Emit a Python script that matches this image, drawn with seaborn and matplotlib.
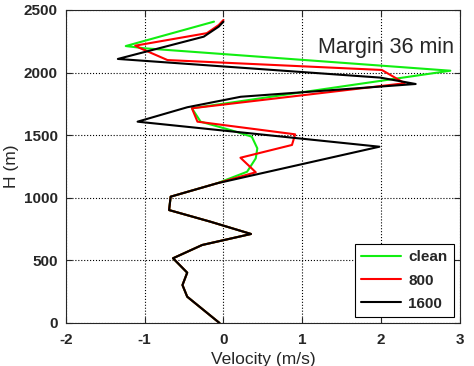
import numpy as np
import pandas as pd
import matplotlib
matplotlib.use('Agg')
import matplotlib.pyplot as plt
import seaborn as sns

# shared lower part of the profile (H in m, velocity in m/s)
low_h = [0, 210, 303, 402, 517, 623, 711, 809, 902, 1009, 1116]
low_v = [-0.05, -0.46, -0.52, -0.46, -0.64, -0.27, 0.35, -0.165, -0.69, -0.67, -0.08]

clean_h = low_h + [1208, 1315, 1395, 1488, 1541, 1608, 1715, 2015, 2194, 2212, 2407]
clean_v = low_v + [0.30, 0.41, 0.43, 0.36, 0.09, -0.29, -0.40, 2.88, -1.0, -1.24, -0.12]

r800_h = low_h + [1204, 1320, 1422, 1507, 1608, 1715, 1915, 2021, 2100, 2193, 2215, 2315, 2380, 2420]
r800_v = low_v + [0.41, 0.216, 0.87, 0.91, -0.33, -0.40, 2.3, 2.01, -0.71, -1.05, -1.12, -0.21, -0.06, 0.0]

r1600_h = low_h + [1408, 1608, 1723, 1807, 1909, 1960, 2109, 2287, 2367, 2407]
r1600_v = low_v + [1.98, -1.09, -0.46, 0.22, 2.44, 1.99, -1.34, -0.25, -0.06, 0.0]

labels = ['clean', '800', '1600']
colors = ['#11ee11', '#ff0000', '#000000']

frames = []
for lab, hh, vv in zip(labels, [clean_h, r800_h, r1600_h], [clean_v, r800_v, r1600_v]):
    frames.append(pd.DataFrame({'H': hh, 'V': vv, 'run': lab}))
df = pd.concat(frames, ignore_index=True)

sns.set_style('ticks')
plt.rcParams['font.family'] = ['Liberation Sans', 'DejaVu Sans']
plt.rcParams['axes.unicode_minus'] = False

fig = plt.figure(figsize=(4.74, 3.66), dpi=100)
ax = fig.add_axes([0.139, 0.1175, 0.831, 0.8552])

sns.lineplot(data=df, x='V', y='H', hue='run', palette=colors, hue_order=labels,
             sort=False, estimator=None, linewidth=1.5, ax=ax)

ax.set_xlim(-2, 3)
ax.set_ylim(0, 2500)
ax.set_xticks([-2, -1, 0, 1, 2, 3])
ax.set_yticks([0, 500, 1000, 1500, 2000, 2500])
ax.grid(True, color='black', linestyle=':', linewidth=0.8)
ax.tick_params(direction='in', top=True, right=True, length=4, labelsize=11)
ax.tick_params(axis='x', pad=7)
ax.tick_params(axis='y', pad=6)
for lbl in ax.get_xticklabels() + ax.get_yticklabels():
    lbl.set_fontweight('bold')
for s in ax.spines.values():
    s.set_visible(True)
    s.set_linewidth(0.8)

ax.set_xlabel('Velocity (m/s)', fontsize=12.5, labelpad=4)
ax.set_ylabel('H (m)', fontsize=12.5, labelpad=3)
ax.text(1.2, 2204, 'Margin 36 min', fontsize=15.5, va='center', ha='left', clip_on=False)

leg = ax.legend(loc='lower right', fancybox=False, framealpha=1, edgecolor='black',
                prop={'weight': 'bold', 'size': 11}, handlelength=2.6,
                borderaxespad=0.4, labelspacing=0.6, handletextpad=0.5)
leg.get_frame().set_linewidth(0.8)

fig.savefig('out.png', dpi=100)
